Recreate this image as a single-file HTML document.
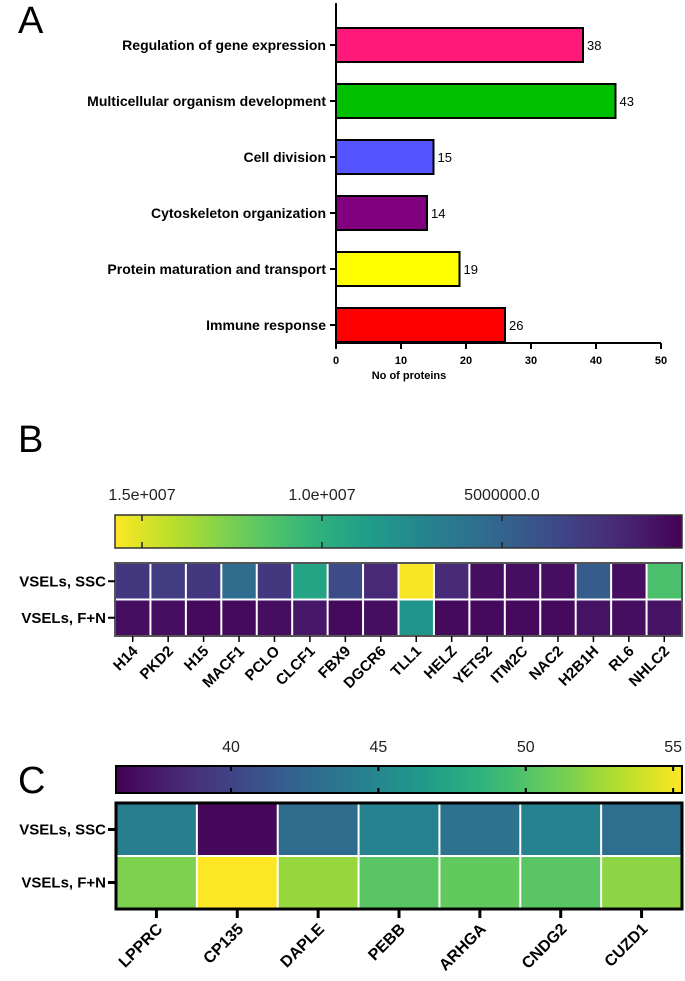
<!DOCTYPE html>
<html><head><meta charset="utf-8"><style>
body{margin:0;background:#fff;}
svg{display:block;font-family:"Liberation Sans",Arial,sans-serif;}
</style></head><body>
<svg id="s" width="685" height="981" viewBox="0 0 685 981">
<text x="18" y="33" font-size="38">A</text>
<text x="18" y="452" font-size="38">B</text>
<text x="18" y="793" font-size="38">C</text>
<g id="ga"></g><g id="gb"></g><g id="gc"></g>
</svg>
<script>
const catsA=["Regulation of gene expression","Multicellular organism development","Cell division","Cytoskeleton organization","Protein maturation and transport","Immune response"];
const valsA=[38,43,15,14,19,26];
const colsA=["#ff1a7a","#00c000","#5555ff","#800080","#ffff00","#ff0000"];
const ticksA=[0,10,20,30,40,50];
const genesB=["H14","PKD2","H15","MACF1","PCLO","CLCF1","FBX9","DGCR6","TLL1","HELZ","YETS2","ITM2C","NAC2","H2B1H","RL6","NHLC2"];
const rowsB=["VSELs, SSC","VSELs, F+N"];
const ssc=[2.6,2.8,2.6,5.6,2.6,9.2,3.6,1.8,15.6,1.9,0.6,0.6,0.6,4.6,0.6,11.2];
const fn=[0.6,0.6,0.4,0.4,0.6,1.0,0.4,0.6,8.2,0.4,0.4,0.4,0.4,0.8,0.6,0.8];
const ticksB=[15,10,5];
const tickLabB=["1.5e+007","1.0e+007","5000000.0"];
const genesC=["LPPRC","CP135","DAPLE","PEBB","ARHGA","CNDG2","CUZD1"];
const rowsC=["VSELs, SSC","VSELs, F+N"];
const sscC=[44.2,36.5,42.8,44.6,43.3,44.6,43.0];
const fnC=[51.5,55.3,52.3,50.3,50.6,50.3,52.0];
const ticksC=[40,45,50,55];

const V=[[68,1,84],[72,40,120],[62,73,137],[49,104,142],[38,130,142],[31,158,137],[53,183,121],[109,205,89],[180,222,44],[253,231,37]];
function vir(t){t=Math.max(0,Math.min(1,t));const p=t*9,i=Math.min(8,Math.floor(p)),f=p-i;const a=V[i],b=V[i+1];return "rgb("+a.map((v,k)=>Math.round(v+(b[k]-v)*f)).join(",")+")";}
const NS="http://www.w3.org/2000/svg";
function mk(par,tag,at,txt){const e=document.createElementNS(NS,tag);for(const k in at)e.setAttribute(k,at[k]);if(txt!==undefined)e.textContent=txt;par.appendChild(e);return e;}

// Panel A
const ga=document.getElementById("ga");
const ax0=336,ax1=661,xA=v=>ax0+(v-0)/(50-0)*(ax1-ax0);
const yA=i=>45+i*56;
let e=mk(ga,"line",{x1:ax0,y1:3,x2:ax0,y2:343,stroke:"#000","stroke-width":2});


e=mk(ga,"line",{x1:ax0,y1:343,x2:ax1,y2:343,stroke:"#000","stroke-width":2});


catsA.forEach((c,i)=>{
 const y=yA(i);
 let r=mk(ga,"rect",{x:ax0,y:y-17,width:xA(valsA[i])-ax0,height:34,fill:colsA[i],stroke:"#000","stroke-width":2});
 
 
 let t=mk(ga,"text",{x:xA(valsA[i])+4,y:y+5,"font-size":13},valsA[i]);
 
 
 let l=mk(ga,"text",{x:326,y:y+5,"font-size":14,"font-weight":"bold","text-anchor":"end"},c);
 
 
 mk(ga,"line",{x1:ax0-6,y1:y,x2:ax0,y2:y,stroke:"#000","stroke-width":2});
});
ticksA.forEach(v=>{
 mk(ga,"line",{x1:xA(v),y1:343,x2:xA(v),y2:349,stroke:"#000","stroke-width":2});
 let t=mk(ga,"text",{x:xA(v),y:364,"font-size":11,"font-weight":"bold","text-anchor":"middle"},v);
 
 
});
e=mk(ga,"text",{x:409,y:379,"font-size":11,"font-weight":"bold","text-anchor":"middle"},"No of proteins");



// Panel B
const gb=document.getElementById("gb");
const bx0=115,bx1=682,maxB=15.75;
const xB=v=>bx1-(v/maxB)*(bx1-bx0);
const defs=mk(document.getElementById("s"),"defs",{});
const grB=mk(defs,"linearGradient",{id:"gB",x1:0,x2:1,y1:0,y2:0});
for(let k=0;k<=20;k++)mk(grB,"stop",{offset:k/20,"stop-color":vir(1-k/20)});
const grC=mk(defs,"linearGradient",{id:"gC",x1:0,x2:1,y1:0,y2:0});
for(let k=0;k<=20;k++)mk(grC,"stop",{offset:k/20,"stop-color":vir(k/20)});
e=mk(gb,"rect",{x:bx0,y:515,width:bx1-bx0,height:33,fill:"url(#gB)",stroke:"#333","stroke-width":1.5});


ticksB.forEach((v,i)=>{
 mk(gb,"line",{x1:xB(v),y1:515,x2:xB(v),y2:521,stroke:"#222","stroke-width":1.5});
 mk(gb,"line",{x1:xB(v),y1:542,x2:xB(v),y2:548,stroke:"#222","stroke-width":1.5});
 let t=mk(gb,"text",{x:xB(v),y:500,"font-size":16,"text-anchor":"middle",fill:"#222"},tickLabB[i]);
 
 
});
const hbTop=563,rhB=36.5,cwB=(bx1-bx0)/genesB.length;
mk(gb,"rect",{x:bx0,y:hbTop,width:bx1-bx0,height:rhB*2,fill:"#fff",stroke:"#555","stroke-width":2});
[ssc,fn].forEach((row,r)=>{
 row.forEach((v,i)=>{
  let c=mk(gb,"rect",{x:bx0+i*cwB+1,y:hbTop+r*rhB+1,width:cwB-2,height:rhB-2,fill:vir(v/maxB)});
  
  
 });
 const y=hbTop+r*rhB+rhB/2;
 mk(gb,"line",{x1:bx0-7,y1:y,x2:bx0,y2:y,stroke:"#000","stroke-width":2});
 let t=mk(gb,"text",{x:bx0-9,y:y+5,"font-size":15,"font-weight":"bold","text-anchor":"end"},rowsB[r]);
 
 
});
genesB.forEach((g,i)=>{
 const x=bx0+(i+0.5)*cwB;
 mk(gb,"line",{x1:x,y1:hbTop+rhB*2,x2:x,y2:hbTop+rhB*2+6,stroke:"#000","stroke-width":1.5});
 let t=mk(gb,"text",{x:x+6,y:652,"font-size":15,"font-weight":"bold","text-anchor":"end",transform:`rotate(-45 ${x+6} 652)`},g);
 
 
});

// Panel C
const gc=document.getElementById("gc");
const cx0=116,cx1=682,minC=36.1,maxC=55.3;
const xC=v=>cx0+(v-minC)/(maxC-minC)*(cx1-cx0);
e=mk(gc,"rect",{x:cx0,y:766,width:cx1-cx0,height:27,fill:"url(#gC)",stroke:"#000","stroke-width":2});


ticksC.forEach(v=>{
 mk(gc,"line",{x1:xC(v),y1:766,x2:xC(v),y2:771,stroke:"#000","stroke-width":2});
 mk(gc,"line",{x1:xC(v),y1:788,x2:xC(v),y2:793,stroke:"#000","stroke-width":2});
 let t=mk(gc,"text",{x:xC(v),y:752,"font-size":16,"text-anchor":"middle",fill:"#222"},v);
 
 
});
const hcTop=803,rhC=53,cwC=(cx1-cx0)/genesC.length;
mk(gc,"rect",{x:cx0,y:hcTop,width:cx1-cx0,height:rhC*2,fill:"#fff",stroke:"#000","stroke-width":3});
[sscC,fnC].forEach((row,r)=>{
 row.forEach((v,i)=>{
  let c=mk(gc,"rect",{x:cx0+i*cwC+1,y:hcTop+r*rhC+1,width:cwC-2,height:rhC-2,fill:vir((v-minC)/(maxC-minC))});
  
  
 });
 const y=hcTop+r*rhC+rhC/2;
 mk(gc,"line",{x1:cx0-8,y1:y,x2:cx0,y2:y,stroke:"#000","stroke-width":3});
 let t=mk(gc,"text",{x:cx0-10,y:y+5,"font-size":15,"font-weight":"bold","text-anchor":"end"},rowsC[r]);
 
 
});
mk(gc,"rect",{x:cx0,y:hcTop,width:cx1-cx0,height:rhC*2,fill:"none",stroke:"#000","stroke-width":3});
genesC.forEach((g,i)=>{
 const x=cx0+(i+0.5)*cwC;
 mk(gc,"line",{x1:x,y1:hcTop+rhC*2,x2:x,y2:hcTop+rhC*2+9,stroke:"#000","stroke-width":3});
 let t=mk(gc,"text",{x:x+7,y:930,"font-size":16,"font-weight":"bold","text-anchor":"end",transform:`rotate(-45 ${x+7} 930)`},g);
 
 
});
</script>
</body></html>
